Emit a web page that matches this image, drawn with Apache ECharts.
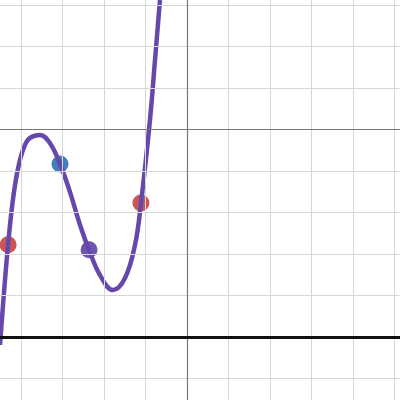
<!DOCTYPE html>
<html><head><meta charset="utf-8">
<script src="https://cdn.jsdelivr.net/npm/echarts@6/dist/echarts.min.js"></script>
<style>html,body{margin:0;padding:0;background:#fff}#c{width:400px;height:400px}</style>
</head><body><div id="c"></div>
<script>
const curveX=[-4.506,-4.386,-4.265,-4.145,-4.024,-3.904,-3.783,-3.542,-3.301,-3.060,-2.819,-2.578,-2.361,-2.096,-1.783,-1.494,-1.253,-1.108,-0.892,-0.771,-0.651];
const curveY=[-0.19,1.37,2.70,3.66,4.27,4.63,4.80,4.87,4.67,4.17,3.49,2.70,2.10,1.49,1.13,1.42,2.22,3.23,5.23,6.67,8.12];
const redPts=[[-4.31,2.22],[-1.11,3.23]];
const bluePts=[[-3.06,4.17]];
const purplePts=[[-2.36,2.10]];
const gridX=[-4,-3,-2,-1,1,2,3,4,5];
const gridY=[-1,1,2,3,4,6,7,8];
const xmin=-4.506,xmax=5.133,ymin=-1.518,ymax=8.12;
const chart=echarts.init(document.getElementById('c'));
const ml=(arr,key,color,w)=>arr.map(v=>({[key]:v,lineStyle:{color:color,width:w,type:'solid'}}));
chart.setOption({
 animation:false,
 grid:{left:0,right:0,top:0,bottom:0},
 xAxis:{type:'value',min:xmin,max:xmax,show:false,splitLine:{show:false}},
 yAxis:{type:'value',min:ymin,max:ymax,show:false,splitLine:{show:false}},
 series:[
  {type:'line',data:[],silent:true,markLine:{symbol:'none',label:{show:false},silent:true,
   data:[...ml(gridX,'xAxis','#d6d6d6',1),...ml(gridY,'yAxis','#d6d6d6',1),
         {xAxis:0,lineStyle:{color:'#777',width:1.2,type:'solid'}},
         {yAxis:5,lineStyle:{color:'#777',width:1.2,type:'solid'}},
         {yAxis:0,lineStyle:{color:'#111',width:3,type:'solid'}}]}},
  {type:'line',data:curveX.map((x,i)=>[x,curveY[i]]),smooth:0.4,symbol:'none',lineStyle:{color:'#6648ac',width:4.5},clip:true},
  {type:'scatter',data:redPts,symbolSize:17,itemStyle:{color:'#c74440',opacity:0.9}},
  {type:'scatter',data:bluePts,symbolSize:17,itemStyle:{color:'#2d70b3',opacity:0.9}},
  {type:'scatter',data:purplePts,symbolSize:17,itemStyle:{color:'#6042a6',opacity:0.9}}
 ]
});
</script></body></html>
